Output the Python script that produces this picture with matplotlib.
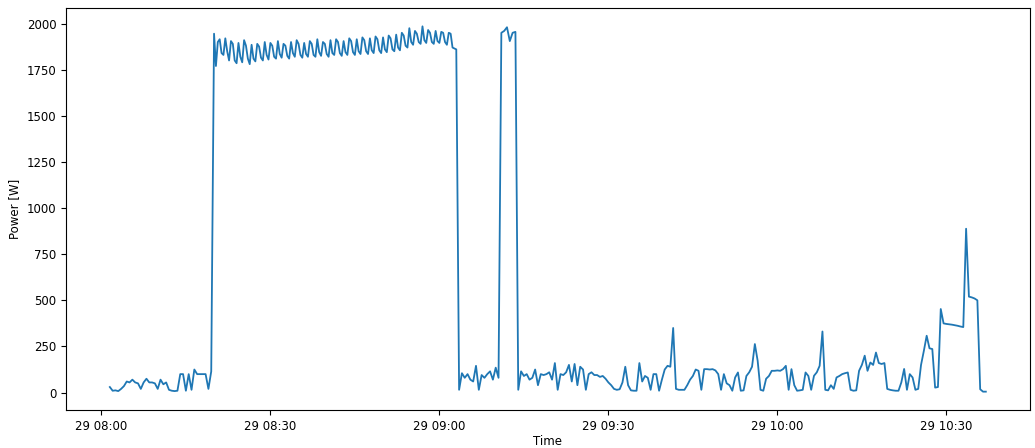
import pandas as pd
import matplotlib
matplotlib.use("Agg")
import matplotlib.pyplot as plt
import matplotlib.dates as mdates

# power readings grouped in segments: (start time, step, values)
idle_start = "2021-03-29 08:01:30"
idle_power = [30, 10, 12, 8, 20, 35, 60, 55, 70, 55, 50, 20, 55, 75, 55, 55, 50, 20,
              70, 45, 55, 15, 10, 8, 10, 100, 100, 10, 100, 15, 125, 100, 100, 100,
              100, 20, 115]

# heating phase is sampled every 20 s
heat_start = "2021-03-29 08:20:00"
heat_power = [1945, 1770,
              1900, 1915, 1840, 1830, 1920, 1850, 1800,
              1905, 1890, 1800, 1785, 1895, 1820, 1790,
              1910, 1880, 1810, 1780, 1885, 1810, 1795,
              1890, 1875, 1815, 1800, 1900, 1830, 1805,
              1895, 1880, 1820, 1810, 1905, 1835, 1815,
              1890, 1880, 1825, 1810, 1900, 1840, 1820,
              1910, 1890, 1830, 1815, 1895, 1835, 1820,
              1905, 1890, 1830, 1820, 1915, 1845, 1825,
              1900, 1890, 1835, 1820, 1910, 1840, 1830,
              1915, 1900, 1840, 1825, 1905, 1845, 1830,
              1920, 1905, 1845, 1830, 1915, 1850, 1835,
              1925, 1910, 1850, 1835, 1920, 1855, 1840,
              1930, 1915, 1855, 1840, 1925, 1860, 1845,
              1935, 1920, 1860, 1850, 1940, 1870, 1855,
              1950, 1935, 1880, 1870, 1975, 1900, 1885,
              1960, 1945, 1900, 1890, 1985, 1910, 1895,
              1965, 1950, 1900, 1890, 1960, 1905, 1895,
              1955, 1950, 1900, 1885, 1950, 1945, 1870,
              1865, 1860]

mid_start = "2021-03-29 09:03:30"
mid_power = [15, 105, 80, 100, 70, 60, 145, 15, 95, 80, 100, 115, 70, 135, 80]

burst_start = "2021-03-29 09:11:00"
burst_power = [1950, 1960, 1980, 1905, 1950, 1955]

tail_start = "2021-03-29 09:14:00"
tail_power = [15, 115, 90, 100, 70, 80, 125, 40, 100, 95, 100, 110, 70, 160, 15, 100,
              95, 110, 150, 60, 155, 40, 140, 125, 15, 100, 110, 95, 95, 85, 90, 75,
              55, 40, 20, 15, 18, 55, 140, 40, 12, 10, 10, 160, 60, 90, 80, 15, 100,
              100, 10, 70, 125, 145, 140, 350, 20, 15, 15, 15, 40, 70, 90, 125,
              118, 15, 127, 127, 125, 127, 120, 100, 15, 100, 50, 40, 10, 82, 109, 10,
              12, 90, 110, 140, 263, 172, 15, 10, 75, 90, 118, 118, 120, 118, 127, 145,
              15, 127, 40, 10, 12, 15, 109, 90, 15, 91, 110, 145, 331, 15, 12, 40, 20,
              82, 90, 100, 105, 109, 15, 10, 12, 118, 150, 200, 118, 163, 150, 217,
              160, 155, 160, 20, 15, 12, 10, 10, 55, 128, 15, 100, 82, 15, 20, 150, 226,
              308, 240, 236, 27, 30, 453, 375, 372, 370, 368, 365, 362, 358, 355, 888,
              520, 516, 510, 500, 18, 5, 5]

segments = [(idle_start, "30s", idle_power), (heat_start, "20s", heat_power),
            (mid_start, "30s", mid_power), (burst_start, "30s", burst_power),
            (tail_start, "30s", tail_power)]

parts = []
for start, step, values in segments:
    idx = pd.date_range(start, periods=len(values), freq=step)
    parts.append(pd.Series(values, index=idx))
power = pd.concat(parts)

fig = plt.figure(figsize=(10.35, 4.48), dpi=100)
ax = fig.add_axes([0.0638, 0.085, 0.931, 0.897])
ax.plot(power.index, power.values, color="#1f77b4", lw=1.3)

ax.xaxis.set_major_locator(mdates.MinuteLocator(byminute=[0, 30]))
ax.xaxis.set_major_formatter(mdates.DateFormatter("%d %H:%M"))
ax.tick_params(labelsize=8.5)
ax.set_xlabel("Time", fontsize=8.5, labelpad=2)
ax.set_ylabel("Power [W]", fontsize=8.5)

plt.savefig("out.png")
